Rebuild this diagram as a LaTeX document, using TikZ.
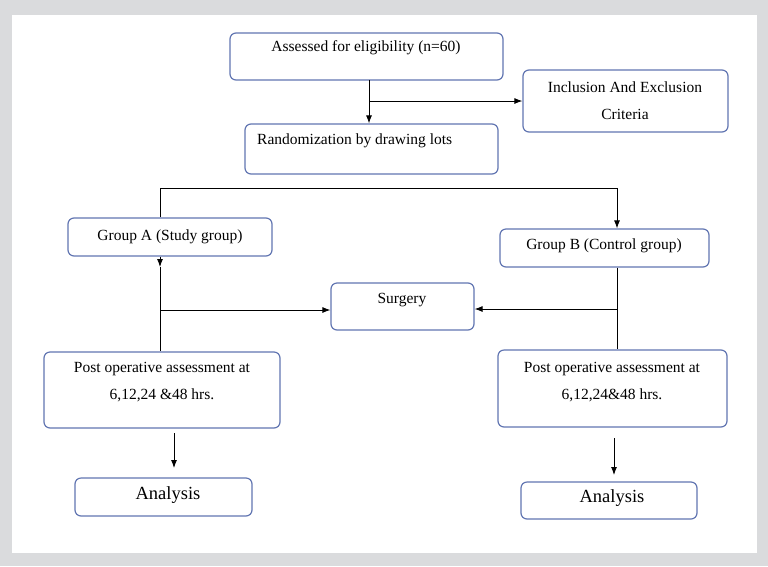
\documentclass[tikz,border=0pt]{standalone}
\usepackage{fontspec}
\setmainfont{Liberation Serif}
\usetikzlibrary{arrows.meta}
\definecolor{framegray}{RGB}{218,219,221}
\definecolor{boxblue}{RGB}{98,118,178}
\tikzset{
  box/.style={draw=boxblue, line width=1.2pt, rounded corners=6pt, fill=white, inner sep=0pt},
  txt/.style={inner sep=0pt, font=\fontsize{15.5}{27}\selectfont, align=center},
  bigtxt/.style={inner sep=0pt, font=\fontsize{18.5}{22}\selectfont},
  conn/.style={draw=black, line width=0.9pt},
  arr/.style={conn, -{Latex[length=8pt,width=6pt]}}
}
\begin{document}
\begin{tikzpicture}[x=1pt,y=-1pt]
\fill[framegray] (0,0) rectangle (768,566);
\fill[white] (12,15) rectangle (757,553);
\useasboundingbox (0,0) rectangle (768,566);

% boxes
\node[box, minimum width=273pt, minimum height=47pt] (assess) at (366.5,56.5) {};
\node[box, minimum width=205pt, minimum height=62pt] (incl) at (625.5,101) {};
\node[box, minimum width=253pt, minimum height=50pt] (rand) at (371.5,149) {};
\node[box, minimum width=204pt, minimum height=38pt] (grpA) at (170,237) {};
\node[box, minimum width=209pt, minimum height=38pt] (grpB) at (604.5,248) {};
\node[box, minimum width=143pt, minimum height=47pt] (surg) at (402.5,306.5) {};
\node[box, minimum width=236pt, minimum height=76pt] (postA) at (162,390) {};
\node[box, minimum width=229pt, minimum height=77pt] (postB) at (612.5,388.5) {};
\node[box, minimum width=177pt, minimum height=38pt] (anaA) at (163.5,497) {};
\node[box, minimum width=176pt, minimum height=37pt] (anaB) at (609,500.5) {};

% texts
\node[txt] (assessT) at (366,48) {Assessed for eligibility (n=60)};
\node[txt] (inclT) at (625,100.5) {Inclusion And Exclusion\\Criteria};
\node[txt, anchor=west] (randT) at (257,141) {Randomization by drawing lots};
\node[txt] (grpAT) at (170,237) {Group A (Study group)};
\node[txt] (grpBT) at (604,246) {Group B (Control group)};
\node[txt] (surgT) at (402,300) {Surgery};
\node[txt] (postAT) at (162,382) {Post operative assessment at\\6,12,24 \&48 hrs.};
\node[txt] (postBT) at (612,382) {Post operative assessment at\\6,12,24\&48 hrs.};
\node[bigtxt] (anaAT) at (168,495) {Analysis};
\node[bigtxt] (anaBT) at (612,498) {Analysis};

% coordinates
\coordinate (aBot) at (369,80);
\coordinate (br1) at (369,101);
\coordinate (busL) at (160,188);
\coordinate (busR) at (617,188);
\coordinate (aMid) at (160,267);
\coordinate (aS) at (160,310);
\coordinate (bS) at (617,309);
\coordinate (aP1) at (174,433);
\coordinate (aP2) at (174,468);
\coordinate (bP1) at (614,438);
\coordinate (bP2) at (614,475);

% connectors
\draw[arr] (aBot) -- (aBot |- rand.north);
\draw[arr] (br1) -- (br1 -| incl.west);
\draw[conn] (busL |- grpA.north) -- (busL) -- (busR);
\draw[arr] (busR) -- (busR |- grpB.north);
\draw[arr] (busL |- grpA.south) -- (aMid);
\draw[conn] (aMid) -- (aMid |- postA.north);
\draw[arr] (aS) -- (aS -| surg.west);
\draw[conn] (busR |- grpB.south) -- (busR |- postB.north);
\draw[arr] (bS) -- (bS -| surg.east);
\draw[arr] (aP1) -- (aP2);
\draw[arr] (bP1) -- (bP2);
\end{tikzpicture}
\end{document}
